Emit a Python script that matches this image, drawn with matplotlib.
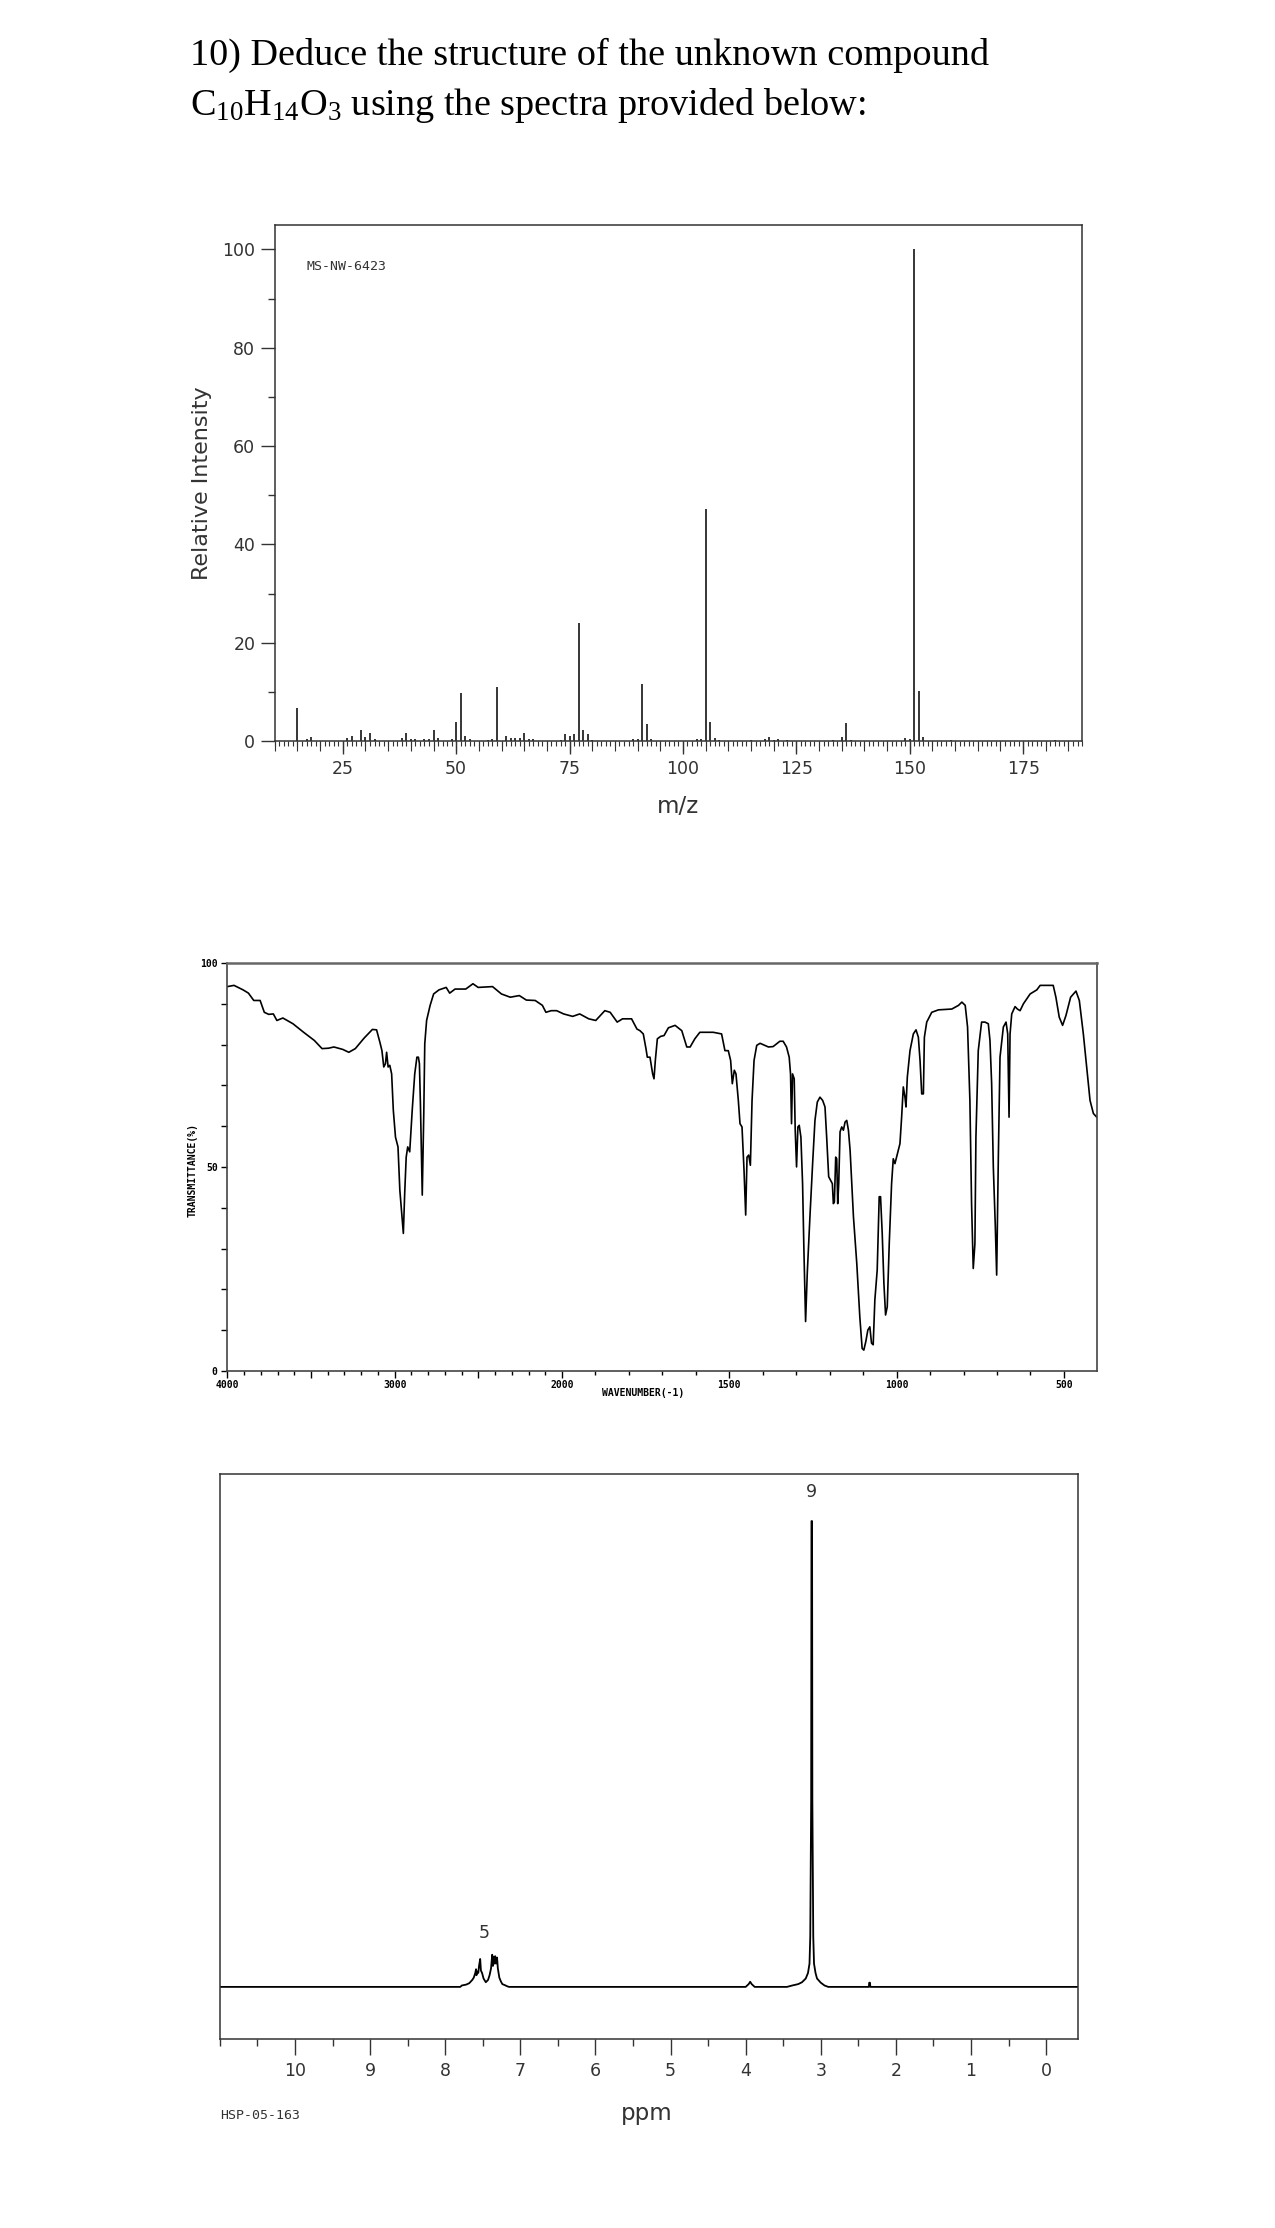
import numpy as np
import matplotlib
matplotlib.use("Agg")
import matplotlib.pyplot as plt
from matplotlib.ticker import MultipleLocator, FixedLocator

# ---- mass spectrum (m/z, relative intensity) ----
ms_mz = [15, 17, 18, 26, 27, 29, 30, 31, 32, 38, 39, 40, 41, 43, 44, 45, 46, 49,
         50, 51, 52, 53, 57, 58, 59, 61, 62, 63, 64, 65, 66, 67, 73, 74, 75, 76,
         77, 78, 79, 80, 89, 90, 91, 92, 93, 103, 104, 105, 106, 107, 108, 115,
         118, 119, 120, 121, 123, 133, 135, 136, 137, 149, 150, 151, 152, 153,
         159, 182]
ms_int = [6.8, 0.5, 0.8, 0.7, 1.0, 2.2, 0.8, 1.7, 0.4, 0.7, 1.7, 0.4, 0.5, 0.5,
          0.4, 2.2, 0.7, 0.4, 3.9, 9.8, 1.0, 0.5, 0.3, 0.4, 11.0, 1.0, 0.7, 0.6,
          0.6, 1.7, 0.5, 0.4, 0.3, 1.4, 1.1, 1.4, 24.1, 2.2, 1.5, 0.3, 0.4, 0.5,
          11.5, 3.5, 0.4, 0.5, 0.5, 47.1, 3.9, 0.6, 0.3, 0.3, 0.4, 0.8, 0.3, 0.4,
          0.3, 0.3, 0.9, 3.7, 0.3, 0.6, 0.4, 100.0, 10.2, 0.9, 0.2, 0.3]

# ---- IR spectrum (wavenumber, % transmittance) ----
ir_wn = [4000, 3960, 3906, 3874, 3842, 3804, 3779, 3753, 3725, 3704, 3668, 3608,
         3544, 3480, 3434, 3395, 3363, 3310, 3274, 3235, 3182, 3133, 3108, 3086,
         3076, 3065, 3055, 3048, 3039, 3029, 3018, 3008, 2995, 2980, 2969, 2959,
         2948, 2940, 2931, 2922, 2910, 2895, 2880, 2867, 2858, 2852, 2846, 2835,
         2826, 2820, 2809, 2788, 2767, 2735, 2692, 2671, 2639, 2575, 2532, 2501,
         2415, 2362, 2309, 2255, 2213, 2160, 2117, 2096, 2064, 2032, 1995, 1968,
         1947, 1920, 1899, 1872, 1856, 1835, 1819, 1792, 1776, 1767, 1757, 1749,
         1745, 1737, 1729, 1725, 1721, 1715, 1705, 1695, 1682, 1662, 1642, 1627,
         1617, 1603, 1588, 1548, 1523, 1513, 1503, 1496, 1491, 1485, 1480, 1473,
         1468, 1462, 1456, 1451, 1447, 1442, 1437, 1432, 1426, 1418, 1408, 1383,
         1369, 1349, 1339, 1329, 1321, 1317, 1314, 1311, 1306, 1303, 1299, 1295,
         1291, 1286, 1281, 1277, 1272, 1267, 1259, 1251, 1244, 1237, 1229, 1221,
         1214, 1209, 1203, 1197, 1192, 1189, 1186, 1182, 1179, 1176, 1173, 1169,
         1164, 1159, 1154, 1149, 1144, 1139, 1129, 1119, 1110, 1103, 1098, 1092,
         1086, 1080, 1075, 1070, 1065, 1058, 1052, 1048, 1043, 1038, 1033, 1028,
         1022, 1015, 1010, 1005, 1000, 995, 990, 985, 980, 975, 972, 968, 960,
         950, 942, 935, 930, 925, 920, 917, 910, 895, 875, 835, 815, 805, 795,
         788, 781, 776, 771, 766, 763, 756, 746, 736, 726, 721, 716, 711, 705,
         701, 696, 691, 681, 673, 668, 664, 661, 656, 646, 639, 631, 621, 601,
         581, 571, 532, 524, 514, 504, 494, 480, 464, 454, 442, 432, 422, 412, 402]
ir_t = [94.2, 94.5, 93.4, 92.6, 90.8, 90.8, 87.9, 87.4, 87.5, 85.9, 86.5, 85.1,
        83.0, 81.0, 79.0, 79.1, 79.4, 78.8, 78.1, 79.0, 81.6, 83.7, 83.6, 80.2,
        78.5, 74.5, 75.3, 78.1, 74.5, 74.9, 72.8, 63.9, 57.3, 54.9, 44.3, 39.4,
        33.7, 43.5, 52.4, 54.9, 53.7, 63.9, 72.8, 76.9, 76.9, 75.3, 65.5, 43.1,
        63.0, 80.2, 85.9, 89.6, 92.4, 93.4, 94.0, 92.6, 93.6, 93.6, 94.9, 94.0,
        94.2, 92.4, 91.6, 92.0, 90.9, 90.8, 89.6, 87.9, 88.3, 88.3, 87.5, 86.9,
        87.5, 86.3, 85.9, 88.3, 87.9, 85.5, 86.3, 86.3, 83.8, 83.4, 82.6, 79.0,
        76.9, 76.9, 72.8, 71.6, 76.1, 81.4, 82.0, 82.2, 84.1, 84.7, 83.4, 79.4,
        79.4, 81.4, 83.0, 83.0, 82.6, 78.5, 78.5, 76.1, 70.4, 73.7, 72.8, 66.3,
        60.6, 59.8, 49.2, 38.2, 52.4, 52.9, 50.4, 66.3, 76.1, 79.8, 80.3, 79.4,
        79.5, 80.8, 80.8, 79.4, 76.9, 72.8, 60.6, 72.8, 71.6, 59.0, 50.0, 59.8,
        60.2, 57.3, 45.9, 29.6, 12.1, 23.9, 37.8, 50.8, 61.4, 65.9, 67.1, 66.3,
        64.7, 57.3, 47.6, 46.7, 45.9, 41.0, 41.4, 52.4, 52.0, 41.0, 45.9, 58.6,
        59.8, 59.0, 61.0, 61.4, 59.0, 54.1, 37.8, 26.3, 13.3, 5.5, 5.1, 7.2,
        10.0, 10.8, 6.8, 6.4, 17.4, 24.7, 42.7, 42.7, 33.7, 21.5, 13.7, 15.7,
        31.2, 45.9, 52.0, 50.8, 52.4, 54.1, 55.7, 62.2, 69.6, 67.1, 64.7, 72.0, 78.5,
        82.6, 83.6, 81.8, 76.1, 67.9, 67.9, 81.8, 85.5, 87.9, 88.5, 88.7, 89.6, 90.4, 89.6,
        84.3, 66.3, 41.0, 25.1, 31.2, 57.3, 78.5, 85.5, 85.5, 85.1, 81.0, 70.4, 50.0, 35.3,
        23.5, 52.4, 76.9, 84.3, 85.5, 82.6, 62.2, 82.6, 87.5, 89.3, 88.7, 88.3, 90.0, 92.4,
        93.4, 94.5, 94.5, 91.6, 86.7, 84.7, 87.1, 91.6, 93.1, 90.8, 82.6, 74.5, 66.3, 63.1, 62.2]

# ---- 1H NMR trace (ppm, intensity) ----
nmr_ppm = [11.0, 7.80, 7.78, 7.72, 7.68, 7.64, 7.62, 7.60, 7.59, 7.585, 7.57, 7.56,
           7.55, 7.535, 7.525, 7.51, 7.49, 7.46, 7.43, 7.41, 7.39, 7.375, 7.365,
           7.355, 7.345, 7.335, 7.325, 7.31, 7.30, 7.28, 7.26, 7.24, 7.21, 7.17,
           7.15, 4.00, 3.96, 3.94, 3.92, 3.88, 3.45, 3.38, 3.30, 3.25, 3.20, 3.17,
           3.15, 3.14, 3.128, 3.124, 3.116, 3.112, 3.10, 3.09, 3.07, 3.05, 3.00,
           2.95, 2.90, 2.36, 2.355, 2.345, 2.34, -0.42]
nmr_int = [0, 0, 0.3, 0.5, 0.8, 1.5, 2.0, 3.0, 3.8, 2.5, 3.3, 3.0,
           4.5, 6.0, 3.5, 3.0, 1.8, 1.0, 1.5, 2.5, 4.0, 6.9, 4.5,
           6.5, 5.0, 6.6, 5.0, 6.3, 4.0, 2.0, 1.2, 0.6, 0.4, 0.1,
           0, 0, 0.6, 1.1, 0.6, 0, 0, 0.3, 0.6, 1.0, 1.8, 3.0,
           5.0, 10.8, 40, 100, 100, 40, 10.8, 5.0, 3.0, 1.8, 0.9,
           0.3, 0, 0, 0.9, 0.9, 0, 0]
nmr_groups = ["5", "9"]
nmr_group_ppm = [7.48, 3.12]

W, H = 1275, 2228
fig = plt.figure(figsize=(W / 100, H / 100), dpi=100)
ink = "#333333"

# title
fig.text(0.149, 0.9711, "10) Deduce the structure of the unknown compound",
         family="Liberation Serif", fontsize=27.5, va="baseline")
fig.text(0.149, 0.9484, r"$\mathregular{C_{10}H_{14}O_3}$ using the spectra provided below:",
         family="Liberation Serif", fontsize=27.5, va="baseline")

# ---------------- MS ----------------
ax1 = fig.add_axes([0.2155, 0.6674, 0.6332, 0.2317])
ax1.vlines(ms_mz, 0, ms_int, color="black", lw=1.1)
ax1.set_xlim(10, 188)
ax1.set_ylim(0, 105)
ax1.set_xticks([25, 50, 75, 100, 125, 150, 175])
ax1.xaxis.set_minor_locator(MultipleLocator(1))
ax1.set_yticks([0, 20, 40, 60, 80, 100])
ax1.yaxis.set_minor_locator(FixedLocator([10, 30, 50, 70, 90]))
ax1.tick_params(axis="x", which="major", length=9.4, width=1, pad=4.3,
                labelsize=12.5, colors=ink)
ax1.tick_params(axis="x", which="minor", length=3.6, width=0.8, colors=ink)
ax1.tick_params(axis="y", which="major", length=10, width=1, pad=4,
                labelsize=12.5, colors=ink)
ax1.tick_params(axis="y", which="minor", length=5, width=1, colors=ink)
sec = ax1.secondary_xaxis("bottom")
sec.set_xticks(np.arange(10, 189, 5))
sec.tick_params(length=7.2, width=0.8, labelbottom=False, colors=ink)
sec.spines["bottom"].set_visible(False)
for s in ax1.spines.values():
    s.set_color(ink)
    s.set_linewidth(1.1)
fig.text(0.2405, 0.8806, "MS-NW-6423", family="DejaVu Sans Mono", fontsize=9.5,
         va="center", color=ink)
fig.text(0.1584, 0.7832, "Relative Intensity", rotation=90, ha="center",
         va="center", fontsize=16, color=ink)
fig.text(0.5318, 0.6382, "m/z", ha="center", va="center", fontsize=16.5, color=ink)


# ---------------- IR ----------------
# the chart is compressed 2x above 2000 cm-1; forward map increases with wavenumber
def wn_fwd(w):
    w = np.asarray(w, dtype=float)
    return np.where(w >= 2000, (w - 4000) / 1000.0, -2 - (2000 - w) / 500.0)


def wn_inv(p):
    p = np.asarray(p, dtype=float)
    return np.where(p >= -2, 4000 + 1000.0 * p, 2000 + 500.0 * (p + 2))


ax2 = fig.add_axes([0.1783, 0.3847, 0.6824, 0.1831])
ax2.set_xscale("function", functions=(wn_fwd, wn_inv))
ax2.plot(ir_wn, ir_t, color="black", lw=1.2)
ax2.set_xlim(4000, 400)
ax2.set_ylim(0, 100)
ax2.set_xticks([4000, 3500, 3000, 2500, 2000, 1500, 1000, 500],
               labels=["4000", "", "3000", "", "2000", "1500", "1000", "500"])
ax2.set_xticks([w for w in range(500, 4000, 100) if w % 500 != 0], minor=True)
ax2.set_yticks([0, 50, 100], labels=["0", "50", "100"])
ax2.set_yticks([10, 20, 30, 40, 60, 70, 80, 90], minor=True)
mono = {"family": "DejaVu Sans Mono", "weight": "bold"}
ax2.tick_params(axis="x", which="major", length=5, width=1, pad=1.5, labelsize=7)
ax2.tick_params(axis="x", which="minor", length=3, width=1)
ax2.tick_params(axis="y", which="both", length=4.3, width=1, pad=2.6, labelsize=7)
for lab in ax2.get_xticklabels() + ax2.get_yticklabels():
    lab.set_fontfamily("DejaVu Sans Mono")
    lab.set_fontweight("bold")
for s in ax2.spines.values():
    s.set_color("#444444")
    s.set_linewidth(1.2)
ax2.spines["top"].set_linewidth(1.8)
ax2.spines["top"].set_color("#666666")
fig.text(0.1514, 0.4749, "TRANSMITTANCE(%)", rotation=90, ha="center", va="center",
         fontsize=7, **mono)
fig.text(0.5043, 0.3748, "WAVENUMBER(-1)", ha="center", va="center", fontsize=7, **mono)

# ---------------- NMR ----------------
ax3 = fig.add_axes([0.1725, 0.0848, 0.6727, 0.2536])
ax3.plot(nmr_ppm, nmr_int, color="black", lw=1.3)
ax3.set_xlim(11.0, -0.42)
ax3.set_ylim(-11.2, 110.1)
ax3.set_xticks(range(0, 11))
ax3.xaxis.set_minor_locator(MultipleLocator(0.5))
ax3.set_yticks([])
ax3.tick_params(axis="x", which="major", length=11.5, width=1, pad=4.9,
                labelsize=12.5, colors=ink)
ax3.tick_params(axis="x", which="minor", length=5, width=1, colors=ink)
for s in ax3.spines.values():
    s.set_color(ink)
    s.set_linewidth(1.1)
label_y = [11.6, 106.2]
for g, p, yy in zip(nmr_groups, nmr_group_ppm, label_y):
    ax3.text(p, yy, g, ha="center", va="center", fontsize=12.5, color=ink)
fig.text(0.5075, 0.0516, "ppm", ha="center", va="center", fontsize=16.5, color=ink)
fig.text(0.1725, 0.0507, "HSP-05-163", family="DejaVu Sans Mono", fontsize=9.5,
         va="center", color=ink)

fig.savefig("out.png", dpi=100, facecolor="white")
